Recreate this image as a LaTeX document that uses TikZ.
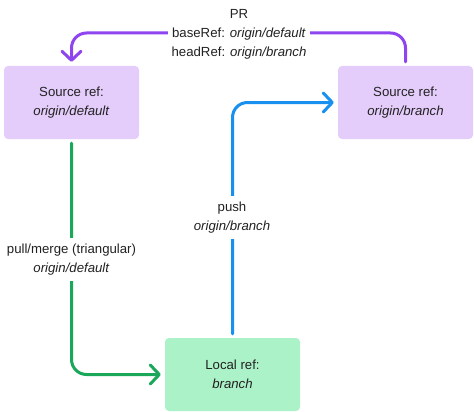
\documentclass[tikz,border=0pt]{standalone}
\usepackage{fontspec}
\setmainfont{Liberation Sans}
\usepackage{xcolor}
\usetikzlibrary{arrows.meta}
\definecolor{ink}{HTML}{222222}
\definecolor{remotefill}{HTML}{E5CDFB}
\definecolor{localfill}{HTML}{ACF2C8}
\definecolor{prcol}{HTML}{8E44EE}
\definecolor{pushcol}{HTML}{1890F0}
\definecolor{pullcol}{HTML}{1AA75A}
\tikzset{
  refbox/.style={rounded corners=4pt, minimum width=135pt, minimum height=73pt,
    align=center, text=ink, font=\fontsize{13.2}{19}\selectfont},
  remote/.style={refbox, fill=remotefill},
  local/.style={refbox, fill=localfill},
  flow/.style={line width=3pt, line cap=round, rounded corners=15pt,
    -{Straight Barb[length=9pt,width=19pt,round]}, shorten >=4pt, shorten <=4pt},
  prline/.style={flow, draw=prcol},
  pushline/.style={flow, draw=pushcol},
  pullline/.style={flow, draw=pullcol},
  lab/.style={fill=white, align=center, text=ink, inner xsep=4pt, inner ysep=6pt,
    font=\fontsize{13.2}{19}\selectfont},
}
\begin{document}
\begin{tikzpicture}[x=1pt, y=-1pt]
  \useasboundingbox (0,0) rectangle (474,412);
  % refs
  \node[remote] (srcdefault) at (71.5,102.5) {Source ref:\\\textit{origin/default}};
  \node[remote] (srcbranch) at (405.5,102.5) {Source ref:\\\textit{origin/branch}};
  \node[local] (localbranch) at (232.5,374.5) {Local ref:\\\textit{branch}};
  \coordinate (prmid) at (239,33);
  % connectors
  \draw[prline] (srcbranch.north) |- (prmid) -| (srcdefault.north);
  \draw[pushline] (localbranch.north) |- (srcbranch.west);
  \draw[pullline] (srcdefault.south) |- (localbranch.west);
  % labels
  \node[lab] (prlab) at (239,34) {PR\\baseRef: \textit{origin/default}\\headRef: \textit{origin/branch}};
  \node[lab] (pushlab) at (232,217.5) {push\\\textit{origin/branch}};
  \node[lab] (pulllab) at (71.5,259.5) {pull/merge (triangular)\\\textit{origin/default}};
\end{tikzpicture}
\end{document}
